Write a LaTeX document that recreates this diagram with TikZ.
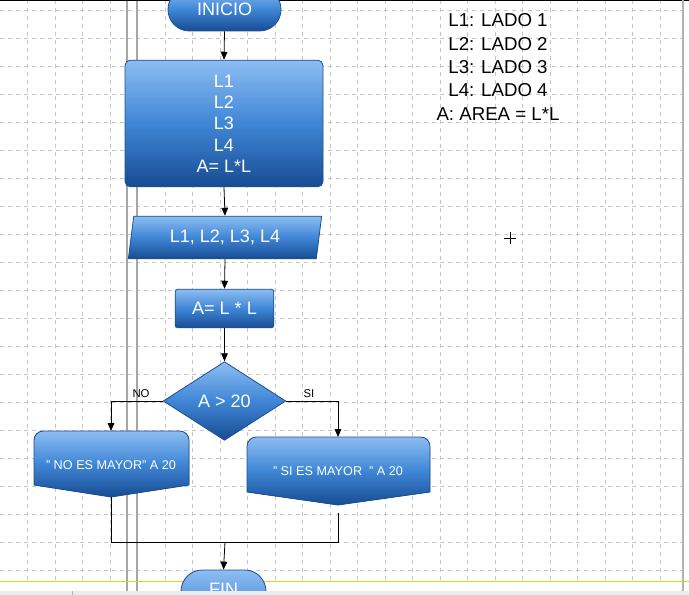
\documentclass[tikz,border=0pt]{standalone}
\usepackage{fontspec}
\setmainfont{Liberation Sans}
\usetikzlibrary{shapes.geometric,arrows.meta}
\definecolor{btop}{HTML}{8DBDF2}
\definecolor{bmid}{HTML}{3F86D6}
\definecolor{bbot}{HTML}{174C93}
\definecolor{bedge}{HTML}{1E4F8F}
\tikzset{
 blue/.style={top color=btop,bottom color=bbot,middle color=bmid,draw=bedge,line width=0.6pt},
 wtxt/.style={text=white,font=\fontsize{13.5}{16}\selectfont,align=center},
 conn/.style={draw=black,line width=0.6pt},
 arr/.style={conn,-{Triangle[length=6pt,width=5pt]}},
 grid/.style={draw=gray!45,dashed,line width=0.4pt},
}
\begin{document}
\begin{tikzpicture}[x=0.75pt,y=-0.75pt]
\useasboundingbox (0,0) rectangle (689,595);
\clip (0,0) rectangle (689,595);
\fill[white] (0,0) rectangle (689,595);
% grid
\foreach \gx in {27.5,55,...,685} \draw[grid] (\gx,0) -- (\gx,580);
\foreach \gy in {10,38,...,580} \draw[grid] (0,\gy) -- (685,\gy);
\draw[gray!70,line width=0.8pt] (127,0) -- (127,595);
\draw[gray!70,line width=0.8pt] (137,0) -- (137,595);
\draw[black,line width=0.8pt] (0,0.5) -- (689,0.5);
\draw[gray!60,line width=0.8pt] (683,0) -- (683,595);
\draw[yellow!85!black,line width=0.7pt] (0,581) -- (689,581);
% shapes
\node[blue,wtxt,rounded corners=16pt,minimum width=84.75pt,minimum height=32.25pt,inner sep=0pt] (inicio) at (224.5,9.5) {INICIO};
\node[blue,wtxt,rounded corners=4pt,inner sep=0pt,minimum width=148.5pt,minimum height=95pt] (box) at (224,123.5) {L1\\L2\\L3\\L4\\A= L*L};
\node[blue,wtxt,trapezium,trapezium left angle=70,trapezium right angle=110,minimum width=145pt,minimum height=32pt,inner sep=0pt,trapezium stretches body] (para) at (225,237.5) {L1, L2, L3, L4};
\node[blue,wtxt,rounded corners=2pt,minimum width=74pt,minimum height=29pt,inner sep=0pt] (calc) at (224.5,308.5) {A= L * L};
\node[blue,wtxt,diamond,minimum width=92pt,minimum height=59pt,inner sep=0pt] (dec) at (224.5,401) {A > 20};
\fill[blue] (111,497) -- (34,485) [rounded corners=7pt] -- (34,431) -- (189,431) [sharp corners] -- (189,485) -- cycle;
\node[wtxt,font=\fontsize{9.5}{11}\selectfont] (no) at (111,465) {" NO ES MAYOR" A 20};
\fill[blue] (338,505) -- (247,492) [rounded corners=7pt] -- (247,437) -- (430,437) [sharp corners] -- (430,492) -- cycle;
\node[wtxt,font=\fontsize{9.5}{11}\selectfont] (si) at (338,471) {" SI ES MAYOR~~" A 20};
\node[blue,wtxt,rounded corners=16pt,minimum width=63.75pt,minimum height=36pt,inner sep=0pt,top color=btop,bottom color=bmid] (fin) at (223.5,594) {};
\node[wtxt,inner sep=0pt] (fint) at (223.5,589) {FIN};
% anchors
\coordinate (nobot) at (111,497);
\coordinate (notop) at (111,431);
\coordinate (sitop) at (338,437);
\coordinate (sibot) at (338,513);
\coordinate (join) at (225,542);
% connectors
\draw[arr] (inicio.south) -- (box.north);
\draw[arr] (box.south) -- (para.north);
\draw[arr] (para.south) -- (calc.north);
\draw[arr] (calc.south) -- (dec.north);
\draw[arr] (dec.west) -| (notop);
\draw[arr] (dec.east) -| (sitop);
\draw[conn] (nobot) |- (join);
\draw[conn] (sibot) |- (join);
\draw[arr] (join) -- (fin.north);
\node[font=\fontsize{8.5}{10}\selectfont,inner sep=0pt] (nol) at (141,394) {NO};
\node[font=\fontsize{8.5}{10}\selectfont,inner sep=0pt] (sil) at (309,394) {SI};
% legend
\node[align=center,font=\fontsize{14}{17.5}\selectfont] (leg) at (498,67) {L1: LADO 1\\L2: LADO 2\\L3: LADO 3\\L4: LADO 4\\A: AREA = L*L};
\draw[black,line width=0.6pt] (504,238) -- (516,238) (510,232) -- (510,244);
\fill[gray!15] (0,591) rectangle (689,595);
\draw[gray!60] (72,591) -- (72,595);
\end{tikzpicture}
\end{document}
